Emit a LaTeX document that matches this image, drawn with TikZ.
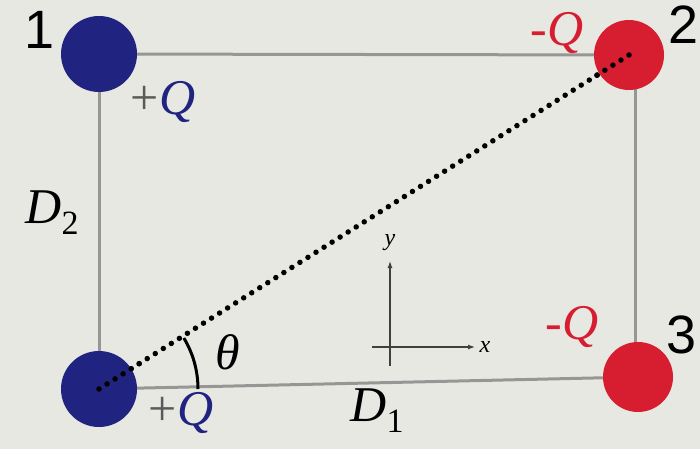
\documentclass[tikz,border=0pt]{standalone}
\usepackage{fontspec}
\setsansfont{Liberation Sans}
\setmainfont{Liberation Serif}
\usetikzlibrary{arrows.meta,calc}
\definecolor{bg}{RGB}{232,232,227}
\definecolor{edge}{RGB}{150,150,148}
\definecolor{qblue}{RGB}{32,36,128}
\definecolor{qred}{RGB}{214,30,48}
\definecolor{pgray}{RGB}{90,90,90}
\newcommand{\subtwo}[1]{\raisebox{-0.22em}{\fontsize{34}{40}\selectfont #1}}
\begin{document}
\begin{tikzpicture}[x=1pt,y=-1pt,
  chargedot/.style={circle,minimum size=#1,inner sep=0pt},
  poscharge/.style={chargedot=76pt,fill=qblue},
  negcharge/.style={chargedot=70pt,fill=qred},
  rectside/.style={draw=edge,line width=3pt},
  cornernum/.style={font=\sffamily\fontsize{54}{60}\selectfont,text=black,inner sep=0pt},
  biglabel/.style={font=\fontsize{50}{56}\selectfont,inner sep=0pt},
  axislabel/.style={font=\itshape\fontsize{24}{28}\selectfont,inner sep=0pt},
  axisarrow/.style={draw=black!75,line width=1.2pt,-{Latex[length=7pt,width=5pt]}},
  dotline/.style={black,line width=5.5pt,line cap=round,dash pattern=on 0pt off 9.5pt}]
\fill[bg] (0,0) rectangle (700,449);
\useasboundingbox (0,0) rectangle (700,449);
% charge positions
\coordinate (c1) at (99,54);
\coordinate (c2) at (629,55);
\coordinate (c3) at (638,377);
\coordinate (c4) at (99,389);
% rectangle sides
\draw[rectside] (c1) -- (c2);
\draw[rectside] (c2) -- ++(6,0) |- (c3);
\draw[rectside] (c1) -- (c4);
\draw[rectside] (c4) -- (c3);
% dotted diagonal
\draw[dotline] (c4) -- (c2);
% charges
\node[poscharge] (q1) at (c1) {};
\node[negcharge] (q2) at (c2) {};
\node[negcharge] (q3) at (c3) {};
\node[poscharge] (q4) at (c4) {};
% dotted part on top of the circles
\draw[dotline] (q4.center) -- ($(q4.center)!0.08!(q2.center)$);
\draw[dotline] (q2.center) -- ($(q2.center)!0.07!(q4.center)$);
% angle
\draw[black,line width=3pt] (c4) ++(0:99) arc[start angle=0,end angle=-31,radius=99];
\node[biglabel] (th) at (228,352) {\itshape θ};
% labels
\node[cornernum] (n1) at (40,30) {1};
\node[cornernum] (n2) at (684,25) {2};
\node[cornernum] (n3) at (682,335) {3};
\node[biglabel] (l1) at (163,102) {{\color{pgray}+}{\color{qblue}\itshape Q}};
\node[biglabel] (l4) at (181,413) {{\color{pgray}+}{\color{qblue}\itshape Q}};
\node[biglabel,text=qred] (l2) at (557,33) {-{\itshape Q}};
\node[biglabel,text=qred] (l3) at (572,327) {-{\itshape Q}};
\node[biglabel] (d2) at (52,213) {{\itshape D}\subtwo{2}};
\node[biglabel] (d1) at (377,411) {{\itshape D}\subtwo{1}};
% axes
\coordinate (o) at (390,347);
\draw[axisarrow] (390,366) -- (390,261);
\draw[axisarrow] (372,347) -- (475,347);
\node[axislabel] (ly) at (390,243) {y};
\node[axislabel] (lx) at (485,347) {x};
\end{tikzpicture}
\end{document}
